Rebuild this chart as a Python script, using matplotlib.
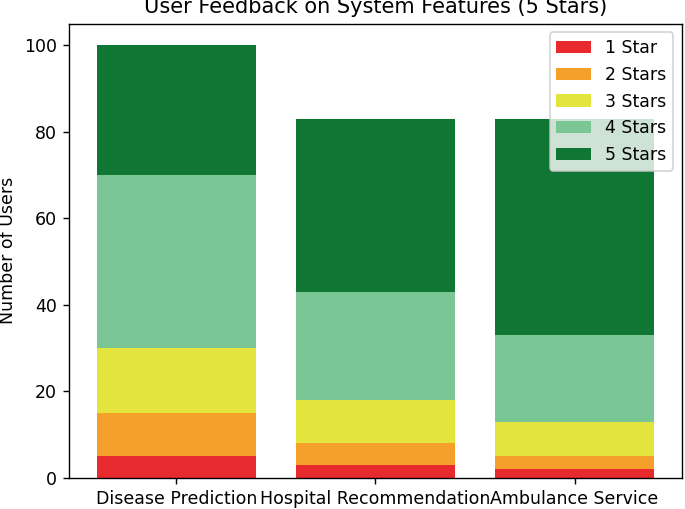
import matplotlib
matplotlib.use("Agg")
import matplotlib.pyplot as plt
import numpy as np

features = ["Disease Prediction", "Hospital Recommendation", "Ambulance Service"]
star_labels = ["1 Star", "2 Stars", "3 Stars", "4 Stars", "5 Stars"]
one_star = [5, 3, 2]
two_stars = [10, 5, 3]
three_stars = [15, 10, 8]
four_stars = [40, 25, 20]
five_stars = [30, 40, 50]
colors = ["#E8292D", "#F5A02B", "#E4E43E", "#7AC795", "#107633"]

series = [one_star, two_stars, three_stars, four_stars, five_stars]

fig = plt.figure(figsize=(5.48, 4.072), dpi=125)
ax = fig.add_axes([0.1007, 0.0609, 0.8949, 0.8929])
bottom = np.zeros(len(features))
for vals, lab, col in zip(series, star_labels, colors):
    ax.bar(features, vals, bottom=bottom, color=col, label=lab, width=0.8)
    bottom += np.array(vals)

ax.set_ylabel("Number of Users")
ax.set_title("User Feedback on System Features (5 Stars)")
ax.legend(loc="upper right")
fig.savefig("out.png", dpi=125)
